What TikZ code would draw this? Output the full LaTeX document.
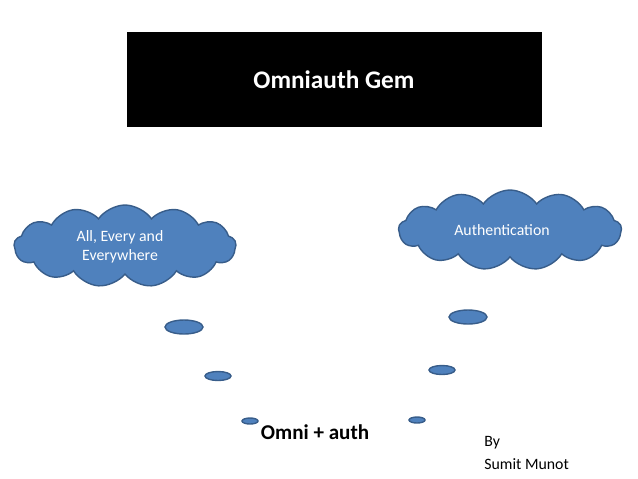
\documentclass[tikz,border=0pt]{standalone}
\usepackage{fontspec}
\setmainfont{Carlito}
\usetikzlibrary{shapes.symbols}
\definecolor{puff}{HTML}{4F81BD}
\definecolor{puffline}{HTML}{385D8A}
\tikzset{
  thought/.style={shape=cloud,cloud puffs=13,cloud puff arc=110,aspect=2.7,
    fill=puff,draw=puffline,thick,inner sep=0pt},
  label/.style={text=white,font=\small,align=center},
  bubble/.style={fill=puff,draw=puffline,thick}
}
\begin{document}
\begin{tikzpicture}[x=0.02cm,y=-0.02cm]
\useasboundingbox (0,0) rectangle (638,478);

%title bar
\fill (127,32) rectangle (542,127);
\node [text=white,font=\Large\bfseries] (title) at (334,80) {Omniauth Gem};

%the two clouds
\node [thought,minimum width=4.44cm,minimum height=1.64cm] (left) at (125,246) {};
\node [thought,minimum width=4.46cm,minimum height=1.6cm] (right) at (510,230) {};
\node [label] (lefttext) at (120,247) {All, Every and\\Everywhere};
\node [label] (righttext) at (502,230) {Authentication};

%small bubbles
\draw [bubble] (184,327) ellipse (19 and 7);
\draw [bubble] (218,376) ellipse (13 and 4.5);
\draw [bubble] (250,421) ellipse (8 and 3);
\draw [bubble] (468,317) ellipse (19 and 7);
\draw [bubble] (442,370) ellipse (13 and 4.5);
\draw [bubble] (417,420) ellipse (8 and 3);

%texts
\node [font=\large\bfseries] (omni) at (315,432) {Omni + auth};
\node [anchor=north west,align=left,font=\small,inner sep=0pt] (by) at (484,436) {By\\[2pt]Sumit Munot};
\end{tikzpicture}
\end{document}
